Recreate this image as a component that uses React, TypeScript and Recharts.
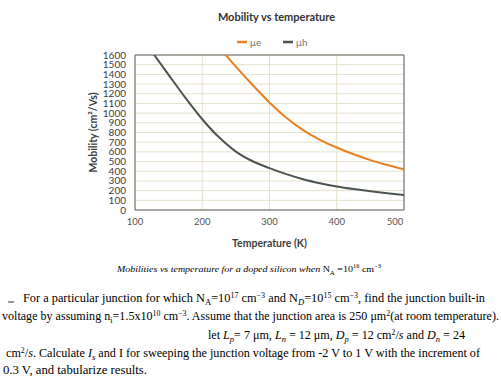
import { LineChart, Line, XAxis, YAxis, CartesianGrid, ReferenceLine } from "recharts";

const TEMPS = [125, 150, 175, 200, 225, 250, 275, 300, 325, 350, 375, 400, 425, 450, 475, 500];
const MU_E = [null, null, null, null, 1680, 1480, 1290, 1110, 952, 825, 725, 645, 575, 515, 464, 420];
const MU_H = [1635, 1395, 1158, 937, 750, 603, 503, 432, 370, 318, 277, 243, 216, 193, 173, 155];
const X_TICKS = [100, 200, 300, 400, 500];
const Y_TICKS = [0, 100, 200, 300, 400, 500, 600, 700, 800, 900, 1000, 1100, 1200, 1300, 1400, 1500, 1600];

const SERIES = [
  { key: "mue", name: "μe", color: "#e8801f" },
  { key: "muh", name: "μh", color: "#4b5551" },
];

const data = TEMPS.map((t, i) => ({ t, mue: MU_E[i], muh: MU_H[i] }));

const FONT = "Lato, 'Open Sans', sans-serif";
const SERIF = "'Liberation Serif', 'Times New Roman', serif";

function XTick(props: any) {
  const { x, y, payload } = props;
  // excel pulls the last label in a bit
  const shift = payload.value === 500 ? -9 : 0;
  return (
    <text x={x + shift} y={y} dy="0.71em" textAnchor="middle" fontSize={9.5} fill="#555" fontFamily={FONT}>
      {payload.value}
    </text>
  );
}

const sub = (s: string, it = false) => [
  <tspan key="a" dy={2.5} fontSize="70%" fontStyle={it ? "italic" : undefined}>{s}</tspan>,
  <tspan key="b" dy={-2.5}>{"\u200b"}</tspan>,
];
const sup = (s: string) => [
  <tspan key="a" dy={-4} fontSize="65%">{s}</tspan>,
  <tspan key="b" dy={4}>{"\u200b"}</tspan>,
];

export default function App() {
  return (
    <div style={{ position: "absolute", left: 0, top: 0, width: 501, height: 384, background: "#fff" }}>
      <LineChart width={501} height={260} data={data} margin={{ top: 55, right: 97, bottom: 0, left: 5 }}>
        <CartesianGrid stroke="#e6e1cb" ticks={Y_TICKS} />
        <XAxis
          dataKey="t"
          type="number"
          domain={[100, 500]}
          ticks={X_TICKS}
          height={50}
          tickSize={0}
          tickMargin={8}
          tick={<XTick />}
          axisLine={{ stroke: "#5d6462" }}
          label={{ value: "Temperature (K)", position: "insideBottom", offset: 13, fontSize: 10.5, fontWeight: 700, fill: "#404040", fontFamily: FONT }}
        />
        <YAxis
          type="number"
          domain={[0, 1600]}
          ticks={Y_TICKS}
          interval={0}
          allowDataOverflow
          width={130}
          tickSize={0}
          tickMargin={9}
          tick={{ fontSize: 10, fill: "#404040", fontFamily: FONT }}
          axisLine={{ stroke: "#5d6462" }}
          label={{ value: "Mobility (cm²/Vs)", angle: -90, position: "insideLeft", offset: 88, fontSize: 10.5, fontWeight: 700, fill: "#404040", fontFamily: FONT, style: { textAnchor: "middle" } }}
        />
        <ReferenceLine y={1600} stroke="#5d6462" />
        <ReferenceLine x={500} stroke="#5d6462" />
        {SERIES.map((s) => (
          <Line key={s.key} dataKey={s.key} name={s.name} type="monotone" stroke={s.color} strokeWidth={2} dot={false} isAnimationActive={false} />
        ))}
      </LineChart>

      <svg width={501} height={384} style={{ position: "absolute", left: 0, top: 0, pointerEvents: "none" }}>
        <text x={276.5} y={21} textAnchor="middle" fontSize={11} fontWeight={700} fill="#333" fontFamily={FONT}>
          Mobility vs temperature
        </text>
        {SERIES.map((s, i) => (
          <g key={s.key}>
            <line x1={237 + i * 46} x2={247 + i * 46} y1={42} y2={42} stroke={s.color} strokeWidth={2.5} />
            <text x={250 + i * 46} y={45.5} fontSize={10} fill="#777" fontFamily={FONT}>{s.name}</text>
          </g>
        ))}

        <g fontFamily={SERIF} fill="#000">
          <text x={117} y={272} fontSize={8.5} textLength={264} lengthAdjust="spacingAndGlyphs">
            <tspan fontStyle="italic">Mobilities vs temperature for a doped silicon when</tspan>
            {"  N"}{sub("A")}{" =10"}{sup("16")}{" cm"}{sup("−3")}
          </text>
          <line x1={8} x2={14} y1={302} y2={302} stroke="#333" strokeWidth={1} />
          <text x={23} y={302} fontSize={12.5} textLength={462} lengthAdjust="spacingAndGlyphs">
            {"For a particular junction for which  N"}{sub("A")}{"=10"}{sup("17")}{" cm"}{sup("−3")}
            {" and  N"}{sub("D", true)}{"=10"}{sup("15")}{" cm"}{sup("−3")}{", find the junction built-in"}
          </text>
          <text x={2} y={320} fontSize={12.5} textLength={497} lengthAdjust="spacingAndGlyphs">
            {"voltage by assuming n"}{sub("i")}{"=1.5x10"}{sup("10")}{" cm"}{sup("−3")}
            {". Assume that the junction area is 250 μm"}{sup("2")}{"(at room temperature)."}
          </text>
          <text x={208} y={339} fontSize={12.5} textLength={257} lengthAdjust="spacingAndGlyphs">
            {"let "}<tspan fontStyle="italic">L</tspan>{sub("p", true)}{"= 7 μm, "}
            <tspan fontStyle="italic">L</tspan>{sub("n", true)}{" = 12 μm, "}
            <tspan fontStyle="italic">D</tspan>{sub("p", true)}{" = 12 cm"}{sup("2")}{"/"}<tspan fontStyle="italic">s</tspan>
            {" and "}<tspan fontStyle="italic">D</tspan>{sub("n", true)}{" = 24"}
          </text>
          <text x={6} y={357} fontSize={12.5} textLength={474} lengthAdjust="spacingAndGlyphs">
            {"cm"}{sup("2")}{"/"}<tspan fontStyle="italic">s</tspan>{". Calculate "}
            <tspan fontStyle="italic">I</tspan>{sub("s", true)}
            {" and I for  sweeping the junction voltage from -2 V to 1 V with the increment of"}
          </text>
          <text x={3} y={374} fontSize={12.5} textLength={144} lengthAdjust="spacingAndGlyphs">
            0.3 V, and tabularize results.
          </text>
        </g>
      </svg>
    </div>
  );
}
